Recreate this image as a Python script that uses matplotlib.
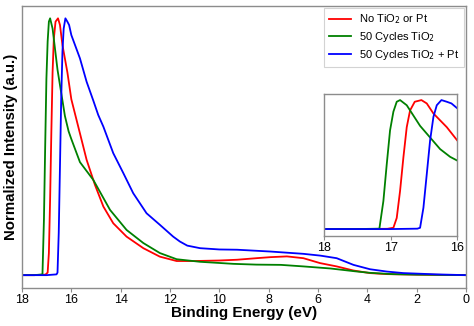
import numpy as np
import matplotlib
matplotlib.use('Agg')
import matplotlib.pyplot as plt

plt.rcParams['font.family'] = ['Liberation Sans', 'DejaVu Sans']

# --- data (binding energy in eV, normalized intensity) ---
red_e = [18, 17.5, 17.05, 16.96, 16.91, 16.86, 16.81, 16.76, 16.71, 16.64, 16.54,
         16.46, 16.36, 16.26, 16.16, 16.0, 15.65, 15.38, 15.04, 14.70, 14.30, 13.76,
         13.08, 12.41, 11.73, 11.0, 10.0, 9.28, 8.5, 7.94, 7.26, 6.59, 5.92, 5.24,
         4.56, 3.89, 3.2, 2.0, 1.0, 0]
red_i = [0, 0, 0.002, 0.01, 0.086, 0.295, 0.556, 0.79, 0.92, 0.987, 1.0,
         0.974, 0.896, 0.843, 0.79, 0.685, 0.552, 0.449, 0.351, 0.267, 0.202, 0.15,
         0.105, 0.072, 0.055, 0.055, 0.057, 0.06, 0.066, 0.07, 0.073, 0.066, 0.047, 0.034,
         0.018, 0.008, 0.004, 0.002, 0.001, 0]

green_e = [18, 17.5, 17.17, 17.11, 17.06, 17.01, 16.96, 16.91, 16.86, 16.76, 16.66,
           16.56, 16.41, 16.26, 16.11, 16.0, 15.65, 15.11, 14.43, 13.76, 13.08, 12.41,
           11.73, 10.78, 9.43, 8.5, 7.5, 6.59, 5.5, 4.5, 3.89, 3.0, 2.0, 0]
green_i = [0, 0, 0.003, 0.217, 0.50, 0.765, 0.91, 0.987, 1.0, 0.96, 0.88,
           0.80, 0.71, 0.62, 0.56, 0.53, 0.44, 0.371, 0.254, 0.176, 0.125, 0.086,
           0.062, 0.052, 0.044, 0.041, 0.040, 0.034, 0.026, 0.015, 0.009, 0.004, 0.002, 0]

blue_e = [18, 17.0, 16.6, 16.56, 16.51, 16.46, 16.41, 16.36, 16.31, 16.24, 16.16,
          16.09, 16.0, 15.65, 15.38, 15.11, 14.91, 14.70, 14.30, 13.89, 13.49, 12.95,
          12.41, 11.87, 11.6, 11.3, 10.78, 10.0, 9.28, 7.94, 6.59, 5.9, 5.24, 4.56,
          3.89, 3.21, 2.54, 1.19, 0]
blue_i = [0, 0, 0.003, 0.01, 0.165, 0.425, 0.687, 0.87, 0.96, 1.0, 0.987,
          0.974, 0.935, 0.844, 0.753, 0.68, 0.624, 0.578, 0.475, 0.397, 0.319, 0.241,
          0.196, 0.15, 0.131, 0.115, 0.105, 0.10, 0.099, 0.092, 0.083, 0.076, 0.066, 0.04,
          0.023, 0.014, 0.008, 0.003, 0]

labels = ["No TiO$_2$ or Pt", "50 Cycles TiO$_2$", "50 Cycles TiO$_2$ + Pt"]
main_ticks = [18, 16, 14, 12, 10, 8, 6, 4, 2, 0]
inset_ticks = [18, 17, 16]

series = [(red_e, red_i, 'red'), (green_e, green_i, 'green'), (blue_e, blue_i, 'blue')]
SPINE = '#8c8c8c'

fig = plt.figure(figsize=(4.74, 3.26), dpi=100)
ax = fig.add_axes([0.0464, 0.1166, 0.9366, 0.865])
for (e, i, c), lab in zip(series, labels):
    ax.plot(e, i, color=c, lw=1.3, label=lab)
ax.set_xlim(18, 0)
ax.set_ylim(-0.05, 1.048)
ax.set_xticks(main_ticks)
ax.set_yticks([])
ax.tick_params(axis='x', labelsize=9, length=3, width=0.8, color=SPINE, pad=1.5)
for s in ax.spines.values():
    s.set_color(SPINE)
    s.set_linewidth(1.0)
ax.set_xlabel("Binding Energy (eV)", fontsize=11, fontweight='bold', labelpad=0)
ax.set_ylabel("Normalized Intensity (a.u.)", fontsize=10.8, fontweight='bold', labelpad=3)
leg = ax.legend(loc='upper right', fontsize=8, borderaxespad=0.2, handlelength=2.0,
                labelspacing=0.35, handletextpad=0.7, fancybox=False, edgecolor='#c8c8c8')
leg.get_frame().set_linewidth(0.8)

ins = fig.add_axes([0.6835, 0.276, 0.2816, 0.4356])
for e, i, c in series:
    ins.plot(e, i, color=c, lw=1.3)
ins.set_xlim(18, 16)
ins.set_ylim(-0.054, 1.047)
ins.set_xticks(inset_ticks)
ins.set_yticks([])
ins.tick_params(axis='x', labelsize=9, length=3, width=0.8, color=SPINE, pad=1.5)
for s in ins.spines.values():
    s.set_color(SPINE)
    s.set_linewidth(1.0)

fig.savefig("out.png", dpi=100)
